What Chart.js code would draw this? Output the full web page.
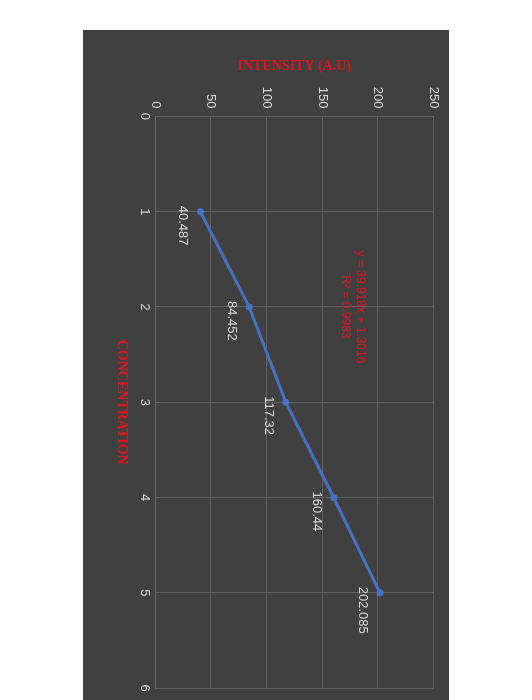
<!DOCTYPE html>
<html>
<head>
<meta charset="utf-8">
<script src="https://cdn.jsdelivr.net/npm/chart.js@4"></script>
<style>
  body { margin: 0; background: #fff; }
  #page { position: relative; width: 532px; height: 700px; overflow: hidden; }
  #panel {
    position: absolute; left: 449px; top: 30px;
    width: 670px; height: 366px; background: #404040;
    transform-origin: 0 0; transform: rotate(90deg);
  }
</style>
</head>
<body>
<div id="page"><div id="panel"><canvas id="c" width="670" height="366"></canvas></div></div>
<script>
const concentration = [1, 2, 3, 4, 5];
const intensity = [40.487, 84.452, 117.32, 160.44, 202.085];
const pointLabels = ['40.487', '84.452', '117.32', '160.44', '202.085'];
const trendText = ['y = 39.918x + 1.3016', 'R\u00B2 = 0.9983'];

// write data labels and trendline equation
const labelPlugin = {
  id: 'labels',
  afterDatasetsDraw(chart) {
    const ctx = chart.ctx, xs = chart.scales.x, ys = chart.scales.y;
    ctx.save();
    ctx.font = '13px "Liberation Sans", sans-serif';
    ctx.fillStyle = '#d9d9d9';
    ctx.textAlign = 'left';
    ctx.textBaseline = 'top';
    chart.getDatasetMeta(0).data.forEach((p, i) => {
      ctx.fillText(pointLabels[i], p.x - 6, p.y + 11);
    });
    ctx.fillStyle = '#e0141e';
    ctx.font = '12px "Liberation Sans", sans-serif';
    ctx.textAlign = 'center';
    ctx.textBaseline = 'middle';
    ctx.fillText(trendText[0], xs.getPixelForValue(2.0), ys.getPixelForValue(184));
    ctx.fillText(trendText[1], xs.getPixelForValue(2.0), ys.getPixelForValue(171));
    ctx.restore();
  }
};

new Chart(document.getElementById('c'), {
  type: 'scatter',
  data: {
    datasets: [{
      data: concentration.map((c, i) => ({ x: c, y: intensity[i] })),
      showLine: true,
      borderColor: '#4472c4',
      backgroundColor: '#4472c4',
      borderWidth: 3,
      pointRadius: 2,
      tension: 0
    }]
  },
  options: {
    responsive: false,
    animation: false,
    layout: { padding: { top: 15, right: 12, left: 24, bottom: 26 } },
    plugins: { legend: { display: false }, tooltip: { enabled: false } },
    scales: {
      x: {
        min: 0, max: 6,
        ticks: { stepSize: 1, color: '#d9d9d9', font: { size: 13 } },
        grid: { color: '#606060', drawTicks: false },
        border: { color: '#6a6a6a' },
        title: { display: true, text: 'CONCENTRATION', color: '#e0141e',
                 font: { family: '"Liberation Serif", serif', size: 14, weight: 'bold' } }
      },
      y: {
        min: 0, max: 250,
        ticks: { stepSize: 50, color: '#d9d9d9', font: { size: 13 }, padding: 8 },
        grid: { color: '#606060', drawTicks: false },
        border: { display: false },
        title: { display: true, text: 'INTENSITY (A.U)', color: '#e0141e',
                 font: { family: '"Liberation Serif", serif', size: 14, weight: 'bold' } }
      }
    }
  },
  plugins: [labelPlugin]
});
</script>
</body>
</html>
